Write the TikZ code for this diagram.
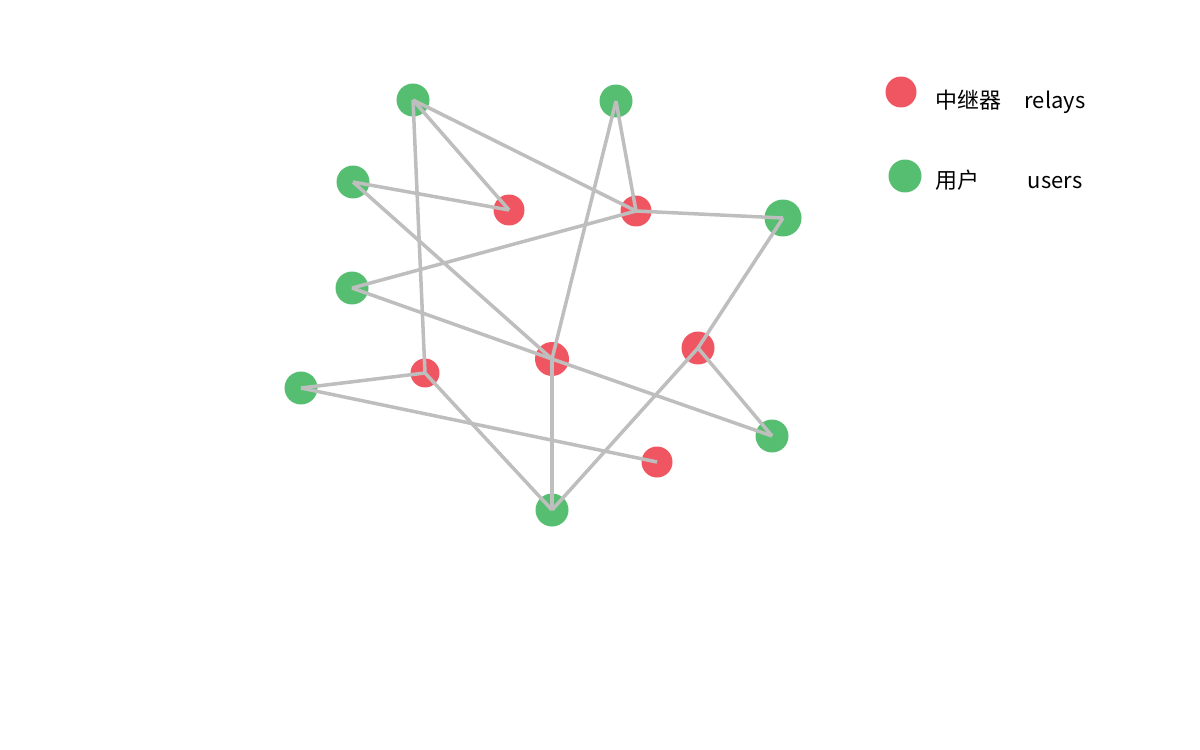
\documentclass[tikz,border=0pt]{standalone}
\usepackage{fontspec}
\setmainfont{Noto Sans CJK SC}
\usepackage{xcolor}
\usetikzlibrary{positioning}

\definecolor{relayred}{RGB}{235,30,45}
\definecolor{usergreen}{RGB}{30,168,65}
\definecolor{edgegray}{RGB}{190,190,190}

\tikzset{
  relay/.style={circle, fill=relayred, fill opacity=0.75, minimum size=0.62cm, inner sep=0pt},
  user/.style={circle, fill=usergreen, fill opacity=0.75, minimum size=0.66cm, inner sep=0pt},
  link/.style={draw=edgegray, line width=2pt},
  legendtext/.style={font=\fontsize{12.5}{15}\selectfont, inner sep=0pt}
}

\begin{document}
\begin{tikzpicture}[x=0.02cm, y=-0.02cm]
    \useasboundingbox (0,0) rectangle (1200,750);

    % users
    \node[user] (u1) at (413,100) {};
    \node[user] (u2) at (616,101) {};
    \node[user] (u3) at (353,182) {};
    \node[user, minimum size=0.74cm] (u4) at (783,218) {};
    \node[user] (u5) at (352,288) {};
    \node[user] (u6) at (301,388) {};
    \node[user] (u7) at (772,436) {};
    \node[user] (u8) at (552,510) {};

    % relays
    \node[relay] (r1) at (509,210) {};
    \node[relay] (r2) at (636,211) {};
    \node[relay, minimum size=0.68cm] (r3) at (552,359) {};
    \node[relay, minimum size=0.66cm] (r4) at (698,348) {};
    \node[relay, minimum size=0.58cm] (r5) at (425,373) {};
    \node[relay] (r6) at (657,462) {};

    % links
    \draw[link] (u1.center) -- (r1.center);
    \draw[link] (u1.center) -- (r2.center);
    \draw[link] (u1.center) -- (r5.center);
    \draw[link] (u2.center) -- (r2.center);
    \draw[link] (u2.center) -- (r3.center);
    \draw[link] (u3.center) -- (r1.center);
    \draw[link] (u3.center) -- (r3.center);
    \draw[link] (u4.center) -- (r2.center);
    \draw[link] (u4.center) -- (r4.center);
    \draw[link] (u5.center) -- (r2.center);
    \draw[link] (u5.center) -- (r3.center);
    \draw[link] (u6.center) -- (r5.center);
    \draw[link] (u6.center) -- (r6.center);
    \draw[link] (u7.center) -- (r3.center);
    \draw[link] (u7.center) -- (r4.center);
    \draw[link] (u8.center) -- (r3.center);
    \draw[link] (u8.center) -- (r4.center);
    \draw[link] (u8.center) -- (r5.center);

    % legend
    \node[relay] (keyrelay) at (901,92) {};
    \node[legendtext, anchor=west] (relayzh) at (935,100) {中继器};
    \node[legendtext] (relayen) at (1055,102) {relays};
    \node[user] (keyuser) at (905,176) {};
    \node[legendtext, anchor=west] (userzh) at (935,180) {用户};
    \node[legendtext] (useren) at (1055,183) {users};
\end{tikzpicture}
\end{document}
